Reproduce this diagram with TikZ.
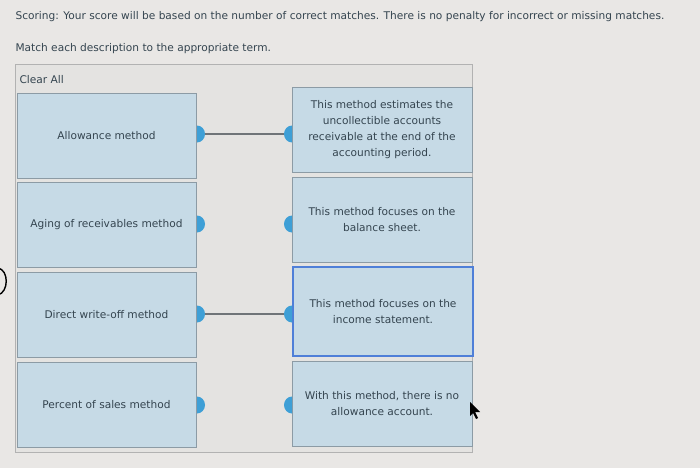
\documentclass[tikz,border=0pt]{standalone}
\usepackage{fontspec}
\setmainfont{DejaVu Sans}
\begin{document}
\begin{tikzpicture}[x=1pt,y=-1pt,
  every node/.style={font=\fontsize{10.6}{16}\selectfont,text=txt,align=center},
  lbox/.style={draw=bordc,fill=boxc,line width=0.8pt,minimum width=179pt,minimum height=85pt,inner sep=0pt},
  rbox/.style={draw=bordc,fill=boxc,line width=0.8pt,minimum width=180pt,minimum height=85pt,inner sep=0pt},
  dot/.style={fill=dotc,draw=none},
  link/.style={draw=linec,line width=1.2pt}]
\definecolor{bg}{HTML}{E9E7E5}
\definecolor{panel}{HTML}{E4E3E1}
\definecolor{boxc}{HTML}{C6DAE6}
\definecolor{bordc}{HTML}{8C9BA5}
\definecolor{txt}{HTML}{34444F}
\definecolor{dotc}{HTML}{3E9FD6}
\definecolor{linec}{HTML}{6F7478}
\definecolor{sel}{HTML}{4F7FD8}
\useasboundingbox (0,0) rectangle (700,468);
\fill[bg] (0,0) rectangle (700,468);
\draw[draw=black!30,fill=panel] (15,64) rectangle (472,452);
\node[anchor=west] (t1) at (12,17) {Scoring: Your score will be based on the number of correct matches. There is no penalty for incorrect or missing matches.};
\node[anchor=west] (t2) at (12,49) {Match each description to the appropriate term.};
\node[anchor=west] (clr) at (16,80) {Clear All};
\node[lbox] (L1) at (106.5,135.5) {Allowance method};
\node[lbox] (L2) at (106.5,225) {Aging of receivables method};
\node[lbox] (L3) at (106.5,315) {Direct write-off method};
\node[lbox] (L4) at (106.5,405) {Percent of sales method};
\node[rbox] (R1) at (382,130) {This method estimates the\\uncollectible accounts\\receivable at the end of the\\accounting period.};
\node[rbox] (R2) at (382,219.5) {This method focuses on the\\balance sheet.};
\node[rbox,draw=sel,line width=2.2pt,minimum height=89pt] (R3) at (383,311.5) {This method focuses on the\\income statement.};
\node[rbox] (R4) at (382,403.5) {With this method, there is no\\allowance account.};
\foreach \y [count=\i] in {134,224,314,405}{
  \coordinate (a\i) at (198,\y);
  \coordinate (b\i) at (290,\y);
  \begin{scope}\clip (197,\y-10) rectangle (212,\y+10);
  \fill[dot] (197,\y) ellipse[x radius=8,y radius=8.5];\end{scope}
  \begin{scope}\clip (278,\y-10) rectangle (292,\y+10);
  \fill[dot] (292,\y) ellipse[x radius=8,y radius=8.5];\end{scope}
}
\draw[link] (a1) ++(7,0) -- ([xshift=-6]b1);
\draw[link] (a3) ++(7,0) -- ([xshift=-6]b3);
\draw[black,line width=1.4pt] (-2,268) .. controls (9,270) and (9,292) .. (-2,295);
\fill[black] (470,402) -- (470,416) -- (473,413) -- (476,419) -- (478,418) -- (475,412) -- (480,412) -- cycle;
\end{tikzpicture}
\end{document}
